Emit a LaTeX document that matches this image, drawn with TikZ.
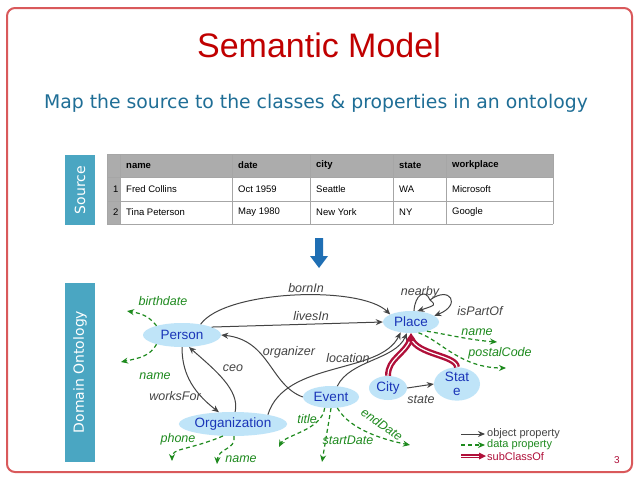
\documentclass[tikz,border=0pt]{standalone}
\usepackage{fontspec}
\setmainfont{Liberation Sans}
\newfontfamily\subfont{DejaVu Sans}
\usetikzlibrary{shapes.geometric,arrows.meta}
\definecolor{frame}{HTML}{D9595B}
\definecolor{tealc}{HTML}{4AA6C2}
\definecolor{nodef}{HTML}{BFE4F8}
\definecolor{nodet}{HTML}{1A35B8}
\definecolor{gr}{HTML}{1E8A1E}
\definecolor{ob}{HTML}{444444}
\definecolor{sc}{HTML}{B0103A}
\definecolor{barrow}{HTML}{1F6FB4}
\begin{document}
\begin{tikzpicture}[x=1pt,y=-1pt,
  cls/.style={ellipse,fill=nodef,text=nodet,inner sep=0pt,font=\fontsize{13.5}{13.5}\selectfont},
  lbl/.style={font=\itshape\fontsize{12.5}{12.5}\selectfont,text=ob,inner sep=1pt},
  glbl/.style={font=\itshape\fontsize{12.5}{12.5}\selectfont,text=gr,inner sep=1pt},
  obj/.style={draw=ob,line width=1pt,-{Stealth[length=7pt,width=6pt]}},
  dat/.style={draw=gr,line width=1.2pt,dashed,dash pattern=on 4pt off 3pt,-{Stealth[length=7pt,width=6pt]}},
  sub/.style={draw=sc,line width=2.4pt,double=white,double distance=1.2pt},
  tab/.style={fill=tealc,text=white,font=\subfont\fontsize{14}{14}\selectfont,rotate=90},
  cell/.style={draw=gray!70,line width=0.5pt},
  ct/.style={anchor=west,font=\fontsize{9.5}{9.5}\selectfont,inner sep=0pt}]
\useasboundingbox (0,0) rectangle (638,479);
\fill[white] (0,0) rectangle (638,479);
\draw[frame,line width=2pt,rounded corners=8pt] (7,8) rectangle (632,472);
\node (title) at (319,45) {\color[HTML]{C00000}\fontsize{34}{34}\selectfont Semantic Model};
\node (sub) at (316,103) {\color[HTML]{1F6E96}\subfont\fontsize{18.8}{19}\selectfont Map the source to the classes \& properties in an ontology};
% source tab
\fill[tealc] (65,155) rectangle (95,225);
\node[tab] (src) at (80,190) {Source};
% table
\fill[gray!65] (107,154) rectangle (553,177);
\fill[gray!65] (107,177) rectangle (120,224);
\foreach \y in {154,177,201,224} \draw[cell] (107,\y) -- (553,\y);
\foreach \x in {107,120,232,310,393,446,553} \draw[cell] (\x,154) -- (\x,224);
\foreach \x/\t in {126/name,238/date,316/city,399/state,452/workplace} \node[ct,font=\bfseries\fontsize{9.5}{9.5}\selectfont] at (\x,165.5) {\t};
\node[ct] at (113,189) {1};\node[ct] at (113,212.5) {2};
\foreach \x/\a/\b in {126/Fred Collins/Tina Peterson,238/Oct 1959/May 1980,316/Seattle/New York,399/WA/NY,452/Microsoft/Google}{
 \node[ct] at (\x,189) {\a}; \node[ct] at (\x,212.5) {\b};}
% blue arrow
\fill[barrow] (315,238) -- (323,238) -- (323,256) -- (328,256) -- (319,268) -- (310,256) -- (315,256) -- cycle;
% domain tab
\fill[tealc] (65,283) rectangle (95,462);
\node[tab] (dom) at (80,372) {Domain Ontology};
% nodes
\node[cls,minimum width=78,minimum height=24] (person) at (182,335) {Person};
\node[cls,minimum width=56,minimum height=22] (place) at (411,322) {Place};
\node[cls,minimum width=100,minimum height=24] (org) at (233,424) {Organization};
\node[cls,minimum width=56,minimum height=22] (event) at (331,397) {Event};
\node[cls,minimum width=38,minimum height=24] (city) at (388,388) {City};
\node[cls,minimum width=46,minimum height=32,align=center,font=\fontsize{13.5}{14}\selectfont] (state) at (457,384) {Stat\\e};
% object properties
\draw[obj] (person.30) .. controls (225,290) and (360,285) .. (place.160);
\draw[obj] (person.15) -- (place.west);
\coordinate (lp) at (430,300);
\draw[obj] (place.75) .. controls (415,295) and (425,288) .. (lp) .. controls (436,305) .. (place.60);
\draw[obj] (lp) .. controls (450,285) and (462,305) .. (place.15);
\draw[obj] (person.270) .. controls (182,370) and (190,390) .. (org.140);
\draw[obj] (org.80) .. controls (240,390) and (215,370) .. (person.300);
\draw[obj] (event.180) .. controls (270,385) and (270,340) .. (person.east);
\draw[obj] (org.15) .. controls (285,360) and (380,375) .. (place.225);
\draw[obj] (event.60) .. controls (350,360) and (395,360) .. (place.250);
\draw[obj] (city.east) -- (state.west);
% subClassOf
\coordinate (tip) at (411,333);
\draw[sub] (city.north) .. controls (388,358) and (405,355) .. (411,338);
\draw[sub] (state.north) .. controls (456,355) and (417,355) .. (411,338);
\fill[sc] (tip) -- (406,341) -- (416,341) -- cycle;
% data properties
\coordinate (bd) at (127,311); \draw[dat] (person.160) .. controls (150,318) and (145,314) .. (bd);
\coordinate (nm1) at (121,362); \draw[dat] (person.200) .. controls (150,356) and (140,358) .. (nm1);
\coordinate (ph) at (172,461); \draw[dat] (org.230) .. controls (190,450) and (172,448) .. (ph);
\coordinate (nm2) at (217,464); \draw[dat] (org.275) .. controls (236,450) and (218,448) .. (nm2);
\coordinate (ti) at (279,447); \draw[dat] (event.240) .. controls (322,430) and (285,435) .. (ti);
\coordinate (sd) at (322,462); \draw[dat] (event.270) -- (sd);
\coordinate (ed) at (410,445); \draw[dat] (event.300) .. controls (350,430) and (385,440) .. (ed);
\coordinate (pn) at (497,342); \draw[dat] (place.330) .. controls (450,335) and (470,340) .. (pn);
\coordinate (pc) at (506,368); \draw[dat] (place.305) .. controls (440,340) and (460,368) .. (pc);
% labels
\node[lbl] (l1) at (306,288) {bornIn};
\node[lbl] (l2) at (311,316) {livesIn};
\node[lbl] (l3) at (420,292) {nearby};
\node[lbl] (l4) at (480,311) {isPartOf};
\node[lbl] (l5) at (289,352) {organizer};
\node[lbl] (l6) at (348,358) {location};
\node[lbl] (l7) at (233,368) {ceo};
\node[lbl] (l8) at (175,396) {worksFor};
\node[lbl] (l9) at (421,400) {state};
\node[glbl] (g1) at (163,301) {birthdate};
\node[glbl] (g2) at (155,376) {name};
\node[glbl] (g3) at (178,439) {phone};
\node[glbl] (g4) at (241,459) {name};
\node[glbl] (g5) at (307,419) {title};
\node[glbl] (g6) at (348,440) {startDate};
\node[glbl,rotate=-35] (g7) at (382,424) {endDate};
\node[glbl] (g8) at (477,332) {name};
\node[glbl] (g9) at (500,353) {postalCode};
% legend
\coordinate (a1) at (461,434); \coordinate (b1) at (485,434);
\coordinate (a2) at (461,445); \coordinate (b2) at (485,445);
\coordinate (a3) at (461,456); \coordinate (b3) at (480,456);
\draw[obj] (a1) -- (b1);
\draw[dat] (a2) -- (b2);
\draw[draw=sc,line width=2pt,double=white,double distance=0.8pt] (a3) -- (b3);
\fill[sc] (486,456) -- (479,452.5) -- (479,459.5) -- cycle;
\node[anchor=west,inner sep=0pt,text=ob,font=\fontsize{11}{11}\selectfont] (t1) at (487,434) {object property};
\node[anchor=west,inner sep=0pt,text=gr,font=\fontsize{11}{11}\selectfont] (t2) at (487,445) {data property};
\node[anchor=west,inner sep=0pt,text=sc,font=\fontsize{11}{11}\selectfont] (t3) at (487,456.5) {subClassOf};
\node[text=sc,font=\fontsize{10}{10}\selectfont] (pg) at (617,460) {3};
\end{tikzpicture}
\end{document}
